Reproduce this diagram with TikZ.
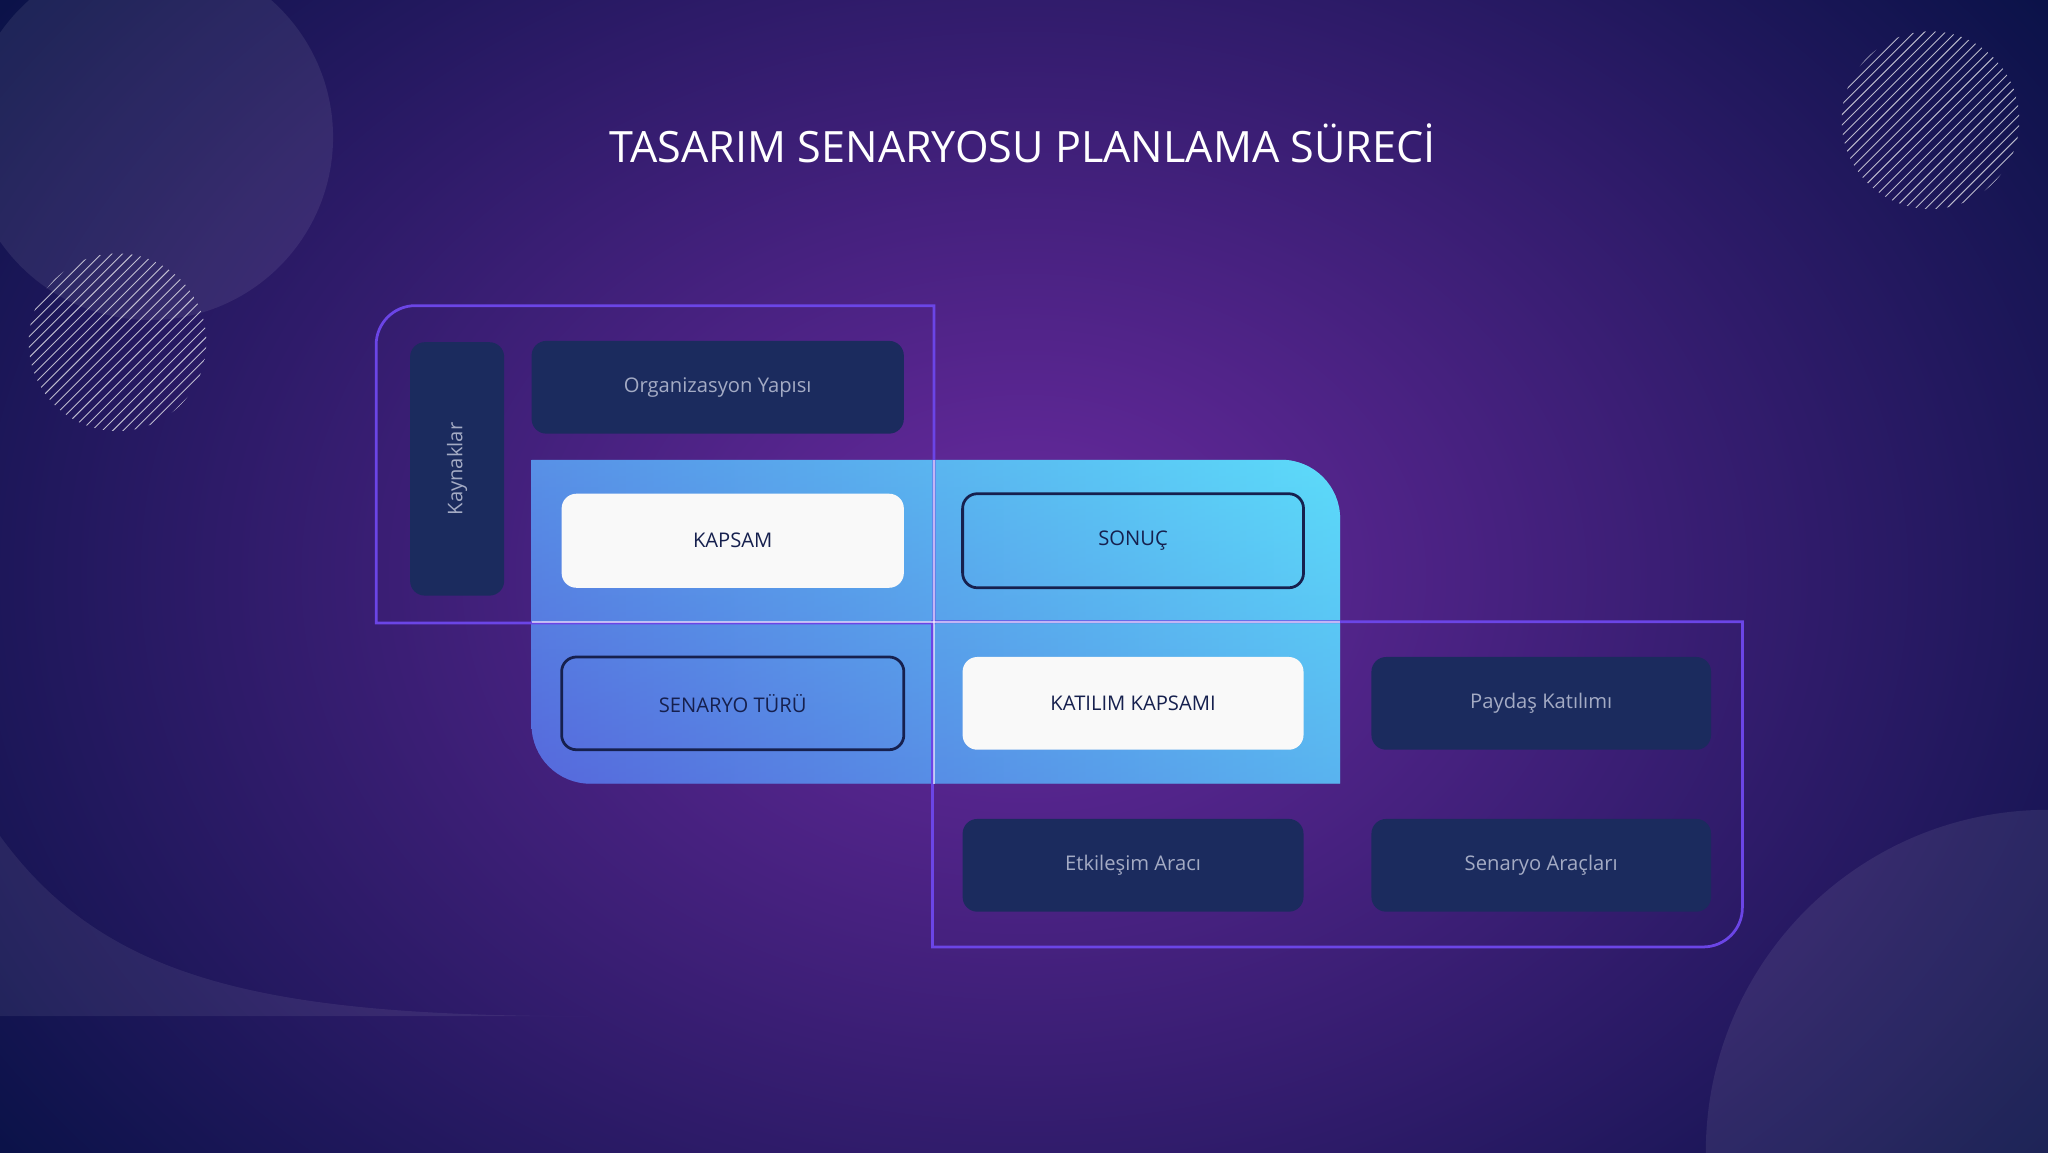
\documentclass[tikz,border=0pt]{standalone}
\usepackage{fontspec}
\setmainfont{Open Sans}
\usetikzlibrary{shadings}
\definecolor{bgc}{HTML}{6A2AA0}
\definecolor{bgo}{HTML}{0A1248}
\definecolor{darkbox}{HTML}{1B2B5E}
\definecolor{graytxt}{HTML}{A4ABC4}
\definecolor{navy}{HTML}{16204E}
\definecolor{vio}{HTML}{6B45E6}
\definecolor{bl1}{HTML}{5668DC}
\definecolor{bl2}{HTML}{5CDCFA}
\begin{document}
\begin{tikzpicture}[x=0.05cm,y=-0.05cm,
  dbox/.style={fill=darkbox,rounded corners=16pt,text=graytxt,font=\fontsize{22}{26}\selectfont},
  wbox/.style={fill=white!95!gray,rounded corners=16pt,text=navy,font=\fontsize{22}{26}\selectfont},
  obox/.style={draw=navy,line width=3pt,rounded corners=16pt,text=navy,font=\fontsize{22}{26}\selectfont},
  outl/.style={draw=vio,line width=3pt}]
\useasboundingbox (0,0) rectangle (1568,882);
\shade[inner color=bgc,outer color=bgo] (-200,-300) rectangle (1768,1182);
% decorative circles
\fill[white,opacity=0.08] (115,105) circle (140);
\fill[white,opacity=0.07] (0,640) .. controls (80,750) and (200,778) .. (450,778) -- (0,778) -- cycle;
\fill[white,opacity=0.08] (1568,882) circle (262);
\begin{scope}
\clip (90,262) circle (68);
\foreach \i in {-160,-152,...,160} \draw[white,opacity=0.7,line width=1pt] (90+\i-80,262+80) -- (90+\i+80,262-80);
\end{scope}
\begin{scope}
\clip (1478,92) circle (68);
\foreach \i in {-160,-152,...,160} \draw[white,opacity=0.7,line width=1pt] (1478+\i-80,92+80) -- (1478+\i+80,92-80);
\end{scope}
% title
\node[text=white,font=\fontsize{47}{52}\selectfont] (title) at (783,110) {TASARIM SENARYOSU PLANLAMA SÜRECİ};
% blue region
\shade[left color=bl1,right color=bl2]
  (407,352) -- (981,352) arc[start angle=-90,end angle=0,radius=45] -- (1026,600) -- (452,600) arc[start angle=90,end angle=180,radius=45] -- cycle;
\shade[top color=bl2,bottom color=bl1,opacity=0.35]
  (407,352) -- (981,352) arc[start angle=-90,end angle=0,radius=45] -- (1026,600) -- (452,600) arc[start angle=90,end angle=180,radius=45] -- cycle;
% outlines
\draw[outl] (715,477) -- (715,234) -- (318,234) arc[start angle=-90,end angle=-180,radius=30] -- (288,477) -- cycle;
\draw[outl] (714,476) -- (1334,476) -- (1334,695) arc[start angle=0,end angle=90,radius=30] -- (714,725) -- cycle;
\draw[white,opacity=0.6,line width=2pt] (407,476) -- (1026,476);
\draw[white,opacity=0.6,line width=2pt] (715,352) -- (715,600);
% boxes
\node[dbox,minimum width=72*0.05cm,minimum height=194*0.05cm] (kay) at (350,359) {};
\node[text=graytxt,rotate=90,font=\fontsize{22}{26}\selectfont] (kayt) at (350,359) {Kaynaklar};
\node[dbox,minimum width=285*0.05cm,minimum height=71*0.05cm] (org) at (549.5,296.5) {Organizasyon Yapısı};
\node[wbox,minimum width=262*0.05cm,minimum height=72*0.05cm] (kap) at (561,414) {KAPSAM};
\node[obox,minimum width=261*0.05cm,minimum height=72*0.05cm] (son) at (867.5,414) {SONUÇ};
\node[obox,minimum width=262*0.05cm,minimum height=71*0.05cm] (sen) at (561,538.5) {SENARYO TÜRÜ};
\node[wbox,minimum width=261*0.05cm,minimum height=71*0.05cm] (kat) at (867.5,538.5) {KATILIM KAPSAMI};
\node[dbox,minimum width=260*0.05cm,minimum height=71*0.05cm] (pay) at (1180,538.5) {Paydaş Katılımı};
\node[dbox,minimum width=261*0.05cm,minimum height=71*0.05cm] (etk) at (867.5,662.5) {Etkileşim Aracı};
\node[dbox,minimum width=260*0.05cm,minimum height=71*0.05cm] (sar) at (1180,662.5) {Senaryo Araçları};
\end{tikzpicture}
\end{document}
